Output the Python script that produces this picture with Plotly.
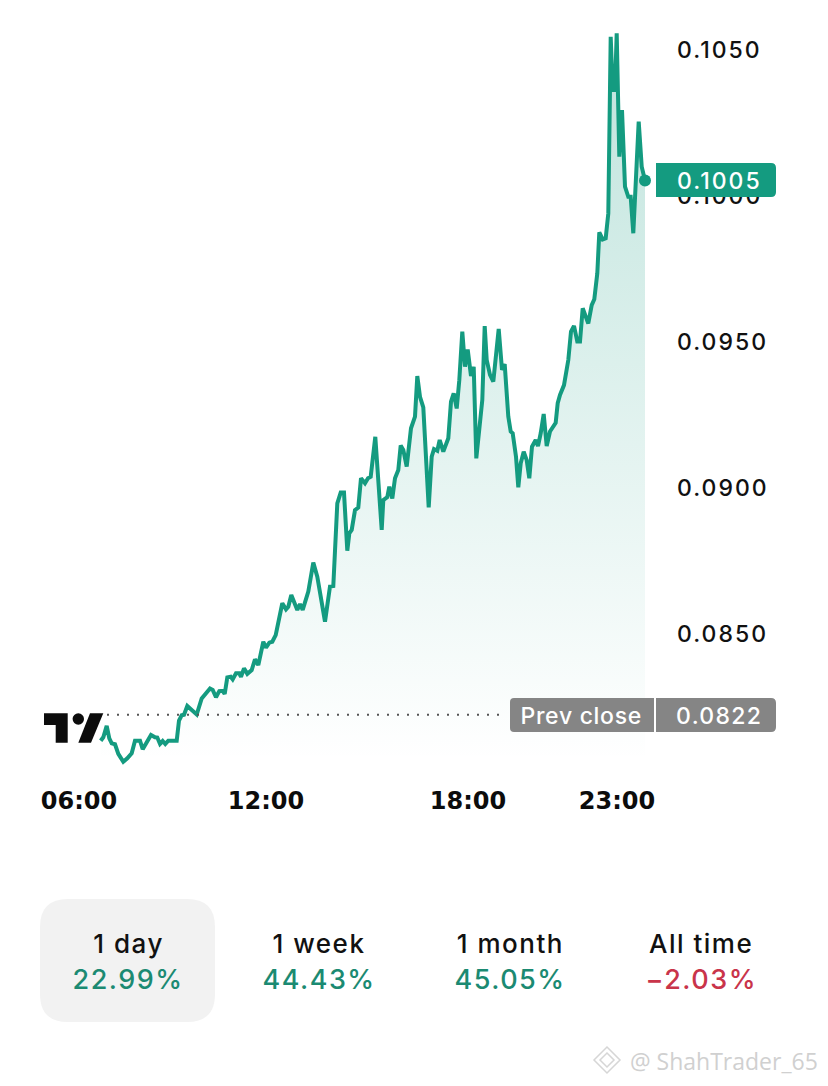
import json
import plotly.graph_objects as go

# Horizontal session position (axis units) and price
session_pos = [
    100.7, 103.3, 106.7, 109.3, 111.7, 115, 118.3, 123.3, 127.3, 131.7, 135, 140, 142.7, 146.7, 151, 155, 157.3, 160,
    162.7, 165.3, 168.3, 176.7, 179, 181.7, 184, 187.3, 196.7, 201.7, 205, 210, 212.7, 216, 219.3, 222.7, 224.7, 227.3,
    230.7, 232.7, 236, 239.3, 241, 244, 247.3, 251.7, 255, 258.3, 263.3, 266, 269.3, 272.3, 275.7, 282.3, 286, 288.3,
    291.3, 295, 297.3, 300, 302.7, 308.3, 313.3, 317.3, 325, 330, 333.3, 337.3, 340.7, 344, 347.3, 349.3, 351.7, 355,
    358.3, 361, 365, 368, 370.7, 375.3, 381.7, 383.3, 387.3, 389.3, 392.3, 395, 398.3, 400.7, 403.3, 406.7, 411, 415,
    417.3, 420, 423.3, 428.7, 431.7, 434, 437.3, 439.7, 443.3, 448.3, 451, 453.7, 456.7, 459.3, 462.3, 465, 467.7, 471,
    473.7, 476.3, 479.3, 482.3, 484.7, 486.7, 490, 493.3, 498.7, 502, 504.7, 508.3, 510.7, 512.7, 516, 518.3, 520.7,
    523.7, 526.7, 529.3, 532, 535.7, 538, 540.7, 543.7, 546.7, 550, 555.7, 557.7, 560, 564, 567, 568.3, 571, 574, 577.3,
    580, 582.7, 588.3, 591.7, 594.3, 597.3, 599.3, 602.7, 605.7, 608.3, 610.7, 612.7, 615, 616.7, 619.3, 622, 625,
    628.3, 630.7, 633.3, 636, 638.7, 641.7, 645,
]
price = [
    .08131, .08143, .08182, .08139, .08122, .08119, .08086, .08059, .08071, .08088, .08131, .08131, .08102, .08128,
    .08151, .08143, .08142, .08120, .08130, .08120, .08131, .08131, .08200, .08218, .08220, .08250, .08221, .08276,
    .08291, .08310, .08305, .08280, .08301, .08302, .08291, .08348, .08350, .08341, .08362, .08362, .08350, .08379,
    .08360, .08373, .08410, .08390, .08470, .08450, .08467, .08470, .08493, .08602, .08581, .08590, .08630, .08596,
    .08579, .08599, .08579, .08642, .08741, .08693, .08539, .08659, .08661, .08944, .08981, .08981, .08782, .08841,
    .08853, .08921, .08930, .09030, .09013, .09030, .09035, .09172, .08853, .08955, .08965, .09001, .08961, .09030,
    .09058, .09142, .09127, .09070, .09201, .09241, .09380, .09309, .09273, .08930, .09104, .09130, .09124, .09161,
    .09121, .09167, .09292, .09321, .09269, .09366, .09532, .09412, .09471, .09380, .09412, .09098, .09184, .09298,
    .09551, .09435, .09384, .09361, .09541, .09401, .09421, .09241, .09190, .09184, .09104, .08999, .09081, .09121,
    .09092, .09030, .09138, .09161, .09140, .09184, .09250, .09140, .09190, .09220, .09287, .09315, .09349, .09408,
    .09435, .09532, .09552, .09498, .09498, .09612, .09560, .09623, .09643, .09732, .09872, .09848, .09852, .09937,
    .10542, .10360, .10360, .10554, .10131, .10291, .10029, .09994, .09994, .09869, .10051, .10251, .10097, .10050,
]
prev_close = 0.0822
last_label = "0.1005"
prev_label = "0.0822"
y_ticks = [0.085, 0.09, 0.095, 0.10, 0.105]
y_tick_labels = ["0.0850", "0.0900", "0.0950", "0.1000", "0.1050"]
x_ticks = [79, 266, 468, 617]
x_tick_labels = ["06:00", "12:00", "18:00", "23:00"]
periods = ["1 day", "1 week", "1 month", "All time"]
changes = ["22.99%", "44.43%", "45.05%", "\u22122.03%"]
change_colors = ["#1b8a72", "#1b8a72", "#1b8a72", "#c9344a"]
period_centers = [128, 319, 510, 701]

W, H = 828, 1086
PLOT_R, PLOT_B = 672, 783
GREEN = "#149b80"
FONT = "Inter"


def X(p):
    return p / PLOT_R


def Y(p):
    return 1 - p / PLOT_B


def poly(pts):
    return "M" + " L".join(f"{X(a):.5f},{Y(b):.5f}" for a, b in pts) + " Z"


def round_rect(x0, y0, x1, y1, rl, rr):
    return (
        f"M{X(x0 + rl):.5f},{Y(y0):.5f} L{X(x1 - rr):.5f},{Y(y0):.5f} "
        f"Q{X(x1):.5f},{Y(y0):.5f} {X(x1):.5f},{Y(y0 + rr):.5f} L{X(x1):.5f},{Y(y1 - rr):.5f} "
        f"Q{X(x1):.5f},{Y(y1):.5f} {X(x1 - rr):.5f},{Y(y1):.5f} L{X(x0 + rl):.5f},{Y(y1):.5f} "
        f"Q{X(x0):.5f},{Y(y1):.5f} {X(x0):.5f},{Y(y1 - rl):.5f} L{X(x0):.5f},{Y(y0 + rl):.5f} "
        f"Q{X(x0):.5f},{Y(y0):.5f} {X(x0 + rl):.5f},{Y(y0):.5f} Z"
    )


def path_shape(path, color, layer="above", line=None):
    return dict(type="path", xref="paper", yref="paper", path=path, fillcolor=color,
                line=dict(width=0) if line is None else line, layer=layer)


def label(x, y, text, color, size, family=FONT, anchor="center", weight=500):
    return dict(xref="paper", yref="paper", x=X(x), y=Y(y), text=text, showarrow=False, xanchor=anchor,
                yanchor="middle", align="center", font=dict(family=family, size=size, color=color, weight=weight))


fig = go.Figure()
fig.add_trace(go.Scatter(
    x=session_pos, y=price, mode="lines", line=dict(color=GREEN, width=4), fill="tozeroy",
    fillgradient=dict(type="vertical", start=0.1053, stop=0.0806,
                      colorscale=[[0, "rgba(20,155,128,0.27)"], [1, "rgba(20,155,128,0)"]]),
    hoverinfo="skip", showlegend=False,
))
fig.add_trace(go.Scatter(
    x=[107, 505], y=[prev_close, prev_close], mode="lines", hoverinfo="skip", showlegend=False,
    line=dict(color="#555555", width=2, dash="2px,8px"),
))
fig.add_trace(go.Scatter(
    x=session_pos[-1:], y=price[-1:], mode="markers", marker=dict(color=GREEN, size=12), hoverinfo="skip",
    showlegend=False,
))

shapes = [
    path_shape(round_rect(656, 163, 776, 197, 0, 5), GREEN),
    path_shape(round_rect(510, 698, 654, 732, 4, 0), "#858585"),
    path_shape(round_rect(656, 698, 776, 732, 0, 5), "#858585"),
    path_shape(round_rect(40, 899, 215, 1022, 28, 28), "#f2f2f2", layer="below"),
    # TradingView mark
    path_shape(poly([(44, 713.3), (67.7, 713.3), (67.7, 742.7), (55.7, 742.7), (55.7, 725), (44, 725)]), "#0c0c0c"),
    path_shape(poly([(90, 713.3), (103.3, 713.3), (91, 742.7), (78.3, 742.7)]), "#0c0c0c"),
    dict(type="circle", xref="paper", yref="paper", x0=X(72.6), x1=X(84), y0=Y(713.3), y1=Y(724.7),
         fillcolor="#0c0c0c", line=dict(width=0)),
    # watermark mark
    path_shape(poly([(607, 1047), (620, 1060), (607, 1073), (594, 1060)]), "rgba(0,0,0,0)",
               line=dict(color="#d6d6d6", width=1.5)),
    path_shape(poly([(607, 1053), (614, 1060), (607, 1067), (600, 1060)]), "rgba(0,0,0,0)",
               line=dict(color="#d6d6d6", width=1.5)),
]

annotations = [
    label(719, 180.5, last_label, "#ffffff", 23),
    label(581, 715.5, "Prev close", "#ffffff", 23),
    label(719, 715.5, prev_label, "#ffffff", 23),
    label(724, 1061, "@ ShahTrader_65", "#d0d0d0", 23, family="Open Sans", weight=400),
]
for cx, name, chg, col in zip(period_centers, periods, changes, change_colors):
    annotations.append(label(cx, 943, name, "#111111", 26))
    annotations.append(label(cx, 979, chg, col, 27))

fig.update_layout(
    width=W, height=H, margin=dict(l=0, r=W - PLOT_R, t=0, b=H - PLOT_B),
    paper_bgcolor="#ffffff", plot_bgcolor="#ffffff", showlegend=False,
    shapes=shapes, annotations=annotations,
    xaxis=dict(range=[0, PLOT_R], tickmode="array", tickvals=x_ticks, ticktext=x_tick_labels, showgrid=False,
               zeroline=False, showline=False, ticks="", fixedrange=True, ticklabelstandoff=1,
               tickfont=dict(family="DejaVu Sans", size=24, color="#0c0c0c", weight=700)),
    yaxis=dict(range=[0.105 - (PLOT_B - 49) / 29200, 0.105 + 49 / 29200], side="right", tickmode="array",
               tickvals=y_ticks, ticktext=y_tick_labels, showgrid=False, zeroline=False, showline=False, ticks="",
               fixedrange=True, ticklabelstandoff=4, ticklabelshift=1,
               tickfont=dict(family=FONT, size=23, color="#111111", weight=500)),
)

# Tracking of the UI typeface (Plotly has no letter-spacing option)
spacing = {t: 2.0 for t in y_tick_labels + [last_label]}
spacing[prev_label] = 1.3
spacing["Prev close"] = 0.7
spacing.update({t: 1.5 for t in periods + changes})
post = "document.body.style.margin='0';var s=" + json.dumps(spacing) + ";" \
       "document.querySelectorAll('svg text').forEach(function(t){var v=s[t.textContent];" \
       "if(v!==undefined){t.style.letterSpacing=v+'px';}});"
fig.write_html("out.html", config={"displayModeBar": False}, post_script=post)
